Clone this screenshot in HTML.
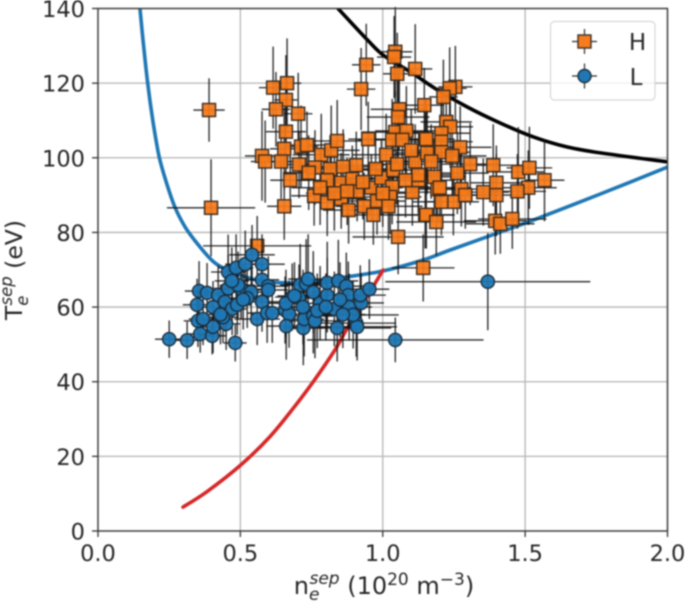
<!DOCTYPE html>
<html lang="en">
<head>
<meta charset="utf-8">
<title>Te sep vs ne sep</title>
<style>
html,body{margin:0;padding:0;background:#fff;}
svg{display:block;filter:blur(0.7px);font-family:"DejaVu Sans","Liberation Sans",sans-serif;fill:#262626;}
</style>
</head>
<body>
<svg id="chart" width="685" height="605" viewBox="0 0 685 605" xmlns="http://www.w3.org/2000/svg">
  <defs><clipPath id="plot-clip"><rect x="98" y="8.5" width="569.5" height="522.5"/></clipPath></defs>
  <g id="grid"></g>
  <g id="curves" clip-path="url(#plot-clip)"></g>
  <g id="series-h"></g>
  <g id="series-l"></g>
  <g id="axes"></g>
  <g>
    <rect x="550.5" y="21.5" width="104.5" height="78.5" rx="4" fill="#fff" fill-opacity="0.8" stroke="#d6d6d6" stroke-width="1.2"/>
    <g>
      <path d="M572 41.5H597M584.5 29V54" stroke="#2b2b2b" stroke-width="1.2" fill="none"/>
      <rect x="578" y="35" width="13" height="13" fill="#f57d1f" stroke="#3a3028" stroke-width="1.4"/>
      <text x="637.5" y="50" font-size="23" text-anchor="middle">H</text>
    </g>
    <g>
      <path d="M572 76H597M584.5 63.5V88.5" stroke="#2b2b2b" stroke-width="1.2" fill="none"/>
      <circle cx="584.5" cy="76" r="6.5" fill="#1f77b4" stroke="#1c2f3d" stroke-width="1.4"/>
      <text x="636" y="85" font-size="23" text-anchor="middle">L</text>
    </g>
  </g>
  <text x="384" y="594" font-size="24" text-anchor="middle">n<tspan font-size="17" dy="6" font-style="oblique">e</tspan><tspan font-size="17" dx="-10" dy="-16" font-style="oblique">sep</tspan><tspan dy="10"> (10</tspan><tspan font-size="17" dy="-9">20</tspan><tspan dy="9"> m</tspan><tspan font-size="17" dy="-9">−3</tspan><tspan dy="9">)</tspan></text>
  <text transform="translate(22,270) rotate(-90)" font-size="23.5" text-anchor="middle">T<tspan font-size="16.5" dy="6" font-style="oblique">e</tspan><tspan font-size="16.5" dx="-10" dy="-16" font-style="oblique">sep</tspan><tspan dy="10"> (eV)</tspan></text>
</svg>
<script>
const xTicks = [0, 0.5, 1, 1.5, 2];
const xTickLabels = ['0.0', '0.5', '1.0', '1.5', '2.0'];
const yTicks = [0, 20, 40, 60, 80, 100, 120, 140];
const yTickLabels = ['0', '20', '40', '60', '80', '100', '120', '140'];

const hX = [.39,.397,.559,.615,.664,.66,.625,.703,.66,.654,.713,.734,.576,.587,.643,.706,.675,.654,.759,.805,.784,.819,.84,.762,.815,.805,.854,.854,.861,.907,.893,.91,.935,.967,.949,.96,.98,.995,1.012,1.033,1.026,1.037,1.051,1.104,1.125,1.114,1.149,1.156,1.149,1.054,1.044,1.04,.942,1.051,1.114,.924,1.146,1.058,1.054,1.044,1.083,1.033,1.069,1.255,1.235,1.213,1.223,1.237,1.206,1.206,1.153,1.272,1.206,1.244,1.307,1.388,1.476,1.515,1.568,1.399,1.511,1.473,1.399,1.353,1.262,1.276,1.248,1.206,1.192,1.181,1.125,1.153,1.188,1.395,1.413,1.455,1.142,.74,.78,.83,.875,.88,.93,.975,1,1.02,1.08,1.1,1.17,1.2,1.29];
const hY = [112.8,86.6,76.4,118.8,120,115.5,113,111.8,107,102.4,103,103.4,100.5,99,99,98.2,94,87,89.8,88,100.8,102,104.5,97.4,97,94,93.3,89,97.6,98,94.3,91,87,84.7,105,92,88.4,94.6,100.8,92.2,89.5,96.7,98.3,90.8,94,99,105,101.3,84.7,78.8,128.4,127,124.9,122.5,123.8,118.4,114.1,113,110.9,106.9,107.2,104.8,104.8,119,118.6,116.3,109.6,108.3,106.6,104.3,105,102.8,101.5,100.5,98.3,98,96.2,97.3,94,93.3,92,91,90,90.8,95.9,91.6,88.2,88.2,91.6,94.9,95.4,84.7,82.8,83.1,82.3,83.6,70.5,96,92,90.5,91,86,93.5,97,90.5,87,94,102,99,92,90];
const hXe = [.055,.155,.19,.05,.05,.04,.05,.05,.07,.05,.06,.07,.06,.05,.07,.08,.07,.06,.08,.07,.1,.1,.09,.09,.1,.09,.1,.09,.11,.1,.11,.09,.1,.1,.07,.11,.1,.12,.12,.13,.11,.13,.1,.12,.13,.1,.09,.11,.1,.16,.06,.06,.05,.05,.06,.05,.07,.1,.11,.12,.11,.12,.1,.06,.06,.05,.09,.08,.1,.11,.1,.11,.1,.12,.1,.1,.09,.08,.07,.09,.1,.1,.09,.09,.11,.11,.09,.1,.1,.11,.12,.1,.14,.11,.12,.12,.11,.09,.1,.1,.1,.09,.1,.11,.1,.12,.11,.1,.1,.11,.1];
const hYe = [8.5,13,8,11,12,12,10,11,12,11,11,9,12,11,10,9,9,9,8,9,11,12,11,10,9,9,8,8,10,9,9,8,9,8,10,9,9,10,11,10,10,10,11,9,9,10,11,11,9,10,12,11,11,11,12,11,10,11,11,11,12,11,10,11,11,10,11,11,12,11,11,11,11,11,11,11,12,11,11,10,10,10,11,9,11,10,9,9,9,10,10,9,9,9,8,8,9,10,10,10,9,9,10,10,9,9,10,11,10,9,9];

const lX = [.25,.313,.359,.401,.482,.45,.404,.351,.369,.348,.355,.383,.422,.404,.446,.471,.439,.489,.457,.457,.485,.517,.541,.576,.503,.538,.524,.492,.576,.598,.598,.576,.559,.594,.612,.657,.671,.661,.721,.724,.756,.682,.706,.71,.731,.756,.762,.738,.78,.805,.805,.844,.872,.879,.83,.882,.84,.907,.91,.896,.924,.921,.953,1.044,1.369,.43,.47,.51,.66,.69,.72,.77,.8,.85,.86];
const lY = [51.4,51.1,52.8,52.3,50.4,55.5,54.7,56.3,56.8,60.6,64.3,63.8,63.2,60,61.4,59.5,57.3,60.6,65,69.4,70.5,71.5,74,71.5,64.8,64,62.4,65.9,67.3,65.6,64.6,61.4,56.8,58.4,58.4,59.2,58.1,54.9,54.4,56.8,57.6,62.7,62.4,65.9,66.2,64,56.3,67.5,61,63.2,66.5,67,65.6,63.2,59.5,60,54.4,55.7,54.7,57.9,61.1,63.2,64.8,51.2,66.8,58,67,62,61,63,60,59,60,62,58];
const lXe = [.05,.04,.04,.05,.04,.05,.05,.05,.05,.05,.05,.05,.05,.05,.05,.05,.05,.05,.05,.06,.06,.07,.08,.08,.07,.07,.07,.06,.06,.07,.07,.08,.08,.07,.07,.06,.06,.07,.07,.07,.07,.06,.06,.07,.07,.07,.08,.07,.08,.08,.07,.07,.07,.08,.08,.08,.19,.14,.14,.16,.08,.09,.07,.31,.36,.05,.06,.06,.07,.06,.07,.07,.07,.08,.08];
const lYe = [5,5,5,5,5,7,7,7,7,7,8,8,8,7,8,7,7,8,9,10,9,9,8,8,8,8,8,9,8,8,8,8,7,8,8,9,9,9,10,10,10,9,9,11,12,11,10,12,10,10,11,11,9,9,10,9,9,9,9,9,8,8,8,6,13,8,9,8,9,9,10,10,9,10,9];

const blueX = [.1475,.159,.1745,.194,.215,.241,.27,.3055,.3466,.399,.439,.499,.569,.65,.745,.875,1.002,1.142,1.237,1.413,1.529,1.764,2];
const blueY = [139.9,130.8,120,109.3,100.2,93.2,86.8,81.5,77.2,72.6,70.5,68.6,67,66.5,66.7,68.1,69.7,72.6,75.3,80.1,83.3,90.3,97.5];
const blackX = [.844,.946,1.002,1.097,1.192,1.297,1.413,1.529,1.648,1.764,2];
const blackY = [139.9,131.6,127.5,123,118.2,113.6,109.3,105.6,102.9,101.3,98.9];
const redX = [.2985,.382,.502,.604,.686,.756,.832,.878,.938,1.001];
const redY = [6.4,10.5,17.7,25.3,32.9,40,48.5,54.7,61.9,69.9];

const svgNS = 'http://www.w3.org/2000/svg';
const x0 = 98, x1 = 667.5, y0 = 531, y1 = 8.5;
function sx(v) { return x0 + (v / 2) * (x1 - x0); }
function sy(v) { return y0 - (v / 140) * (y0 - y1); }
function make(tag, attrs, parent) {
  const el = document.createElementNS(svgNS, tag);
  for (const k in attrs) el.setAttribute(k, attrs[k]);
  parent.appendChild(el);
  return el;
}
const gridG = document.getElementById('grid');
const axesG = document.getElementById('axes');
const curvesG = document.getElementById('curves');

xTicks.forEach(function (t, i) {
  const g = make('line', {x1: sx(t), x2: sx(t), y1: y1, y2: y0, stroke: '#b5b5b5', 'stroke-width': 1.3}, gridG);
  
  
  const tick = make('line', {x1: sx(t), x2: sx(t), y1: y0, y2: y0 + 6, stroke: '#333', 'stroke-width': 1.3}, axesG);
  
  
  const lab = make('text', {x: sx(t), y: y0 + 30, 'font-size': 22.5, 'text-anchor': 'middle'}, axesG);
  lab.textContent = xTickLabels[i];
  
  
});
yTicks.forEach(function (t, i) {
  const g = make('line', {x1: x0, x2: x1, y1: sy(t), y2: sy(t), stroke: '#b5b5b5', 'stroke-width': 1.3}, gridG);
  
  
  const tick = make('line', {x1: x0 - 6, x2: x0, y1: sy(t), y2: sy(t), stroke: '#333', 'stroke-width': 1.3}, axesG);
  
  
  const lab = make('text', {x: x0 - 13, y: sy(t) + 8.5, 'font-size': 22.5, 'text-anchor': 'end'}, axesG);
  lab.textContent = yTickLabels[i];
  
  
});
const frame = make('rect', {x: x0, y: y1, width: x1 - x0, height: y0 - y1, fill: 'none', stroke: '#3a3a3a', 'stroke-width': 1.4}, axesG);



function drawCurve(xs, ys, color) {
  const pts = xs.map(function (v, i) { return [sx(v), sy(ys[i])]; });
  let d = 'M' + pts[0][0].toFixed(1) + ' ' + pts[0][1].toFixed(1);
  for (let i = 0; i < pts.length - 1; i++) {
    const p0 = pts[Math.max(i - 1, 0)], p1 = pts[i], p2 = pts[i + 1], p3 = pts[Math.min(i + 2, pts.length - 1)];
    const c1x = p1[0] + (p2[0] - p0[0]) / 6, c1y = p1[1] + (p2[1] - p0[1]) / 6;
    const c2x = p2[0] - (p3[0] - p1[0]) / 6, c2y = p2[1] - (p3[1] - p1[1]) / 6;
    d += 'C' + c1x.toFixed(1) + ' ' + c1y.toFixed(1) + ' ' + c2x.toFixed(1) + ' ' + c2y.toFixed(1) + ' ' + p2[0].toFixed(1) + ' ' + p2[1].toFixed(1);
  }
  return make('path', {d: d, fill: 'none', stroke: color, 'stroke-width': 3.6, 'stroke-linejoin': 'round', 'stroke-linecap': 'round'}, curvesG);
}
const blueCurve = drawCurve(blueX, blueY, '#1f77b4');


const blackCurve = drawCurve(blackX, blackY, '#000000');


const redCurve = drawCurve(redX, redY, '#d62728');



function drawErrors(parent, xs, ys, xe, ye) {
  xs.forEach(function (v, i) {
    const d = 'M' + sx(v - xe[i]) + ' ' + sy(ys[i]) + 'H' + sx(v + xe[i]) + 'M' + sx(v) + ' ' + sy(ys[i] - ye[i]) + 'V' + sy(ys[i] + ye[i]);
    const e = make('path', {d: d, fill: 'none', stroke: '#111', 'stroke-opacity': 0.9, 'stroke-width': 1.35}, parent);
    
    
  });
}
const gH = document.getElementById('series-h');
const gL = document.getElementById('series-l');
drawErrors(gH, hX, hY, hXe, hYe);
hX.forEach(function (v, i) {
  const m = make('rect', {x: sx(v) - 6.5, y: sy(hY[i]) - 6.5, width: 13, height: 13, fill: '#f57a1a', 'fill-opacity': 0.93, stroke: '#3a2a1c', 'stroke-width': 1.4}, gH);
  
  
});
drawErrors(gL, lX, lY, lXe, lYe);
lX.forEach(function (v, i) {
  const m = make('circle', {cx: sx(v), cy: sy(lY[i]), r: 6.6, fill: '#1f77b4', 'fill-opacity': 0.95, stroke: '#1a2c3a', 'stroke-width': 1.4}, gL);
  
  
});
</script>
</body>
</html>
